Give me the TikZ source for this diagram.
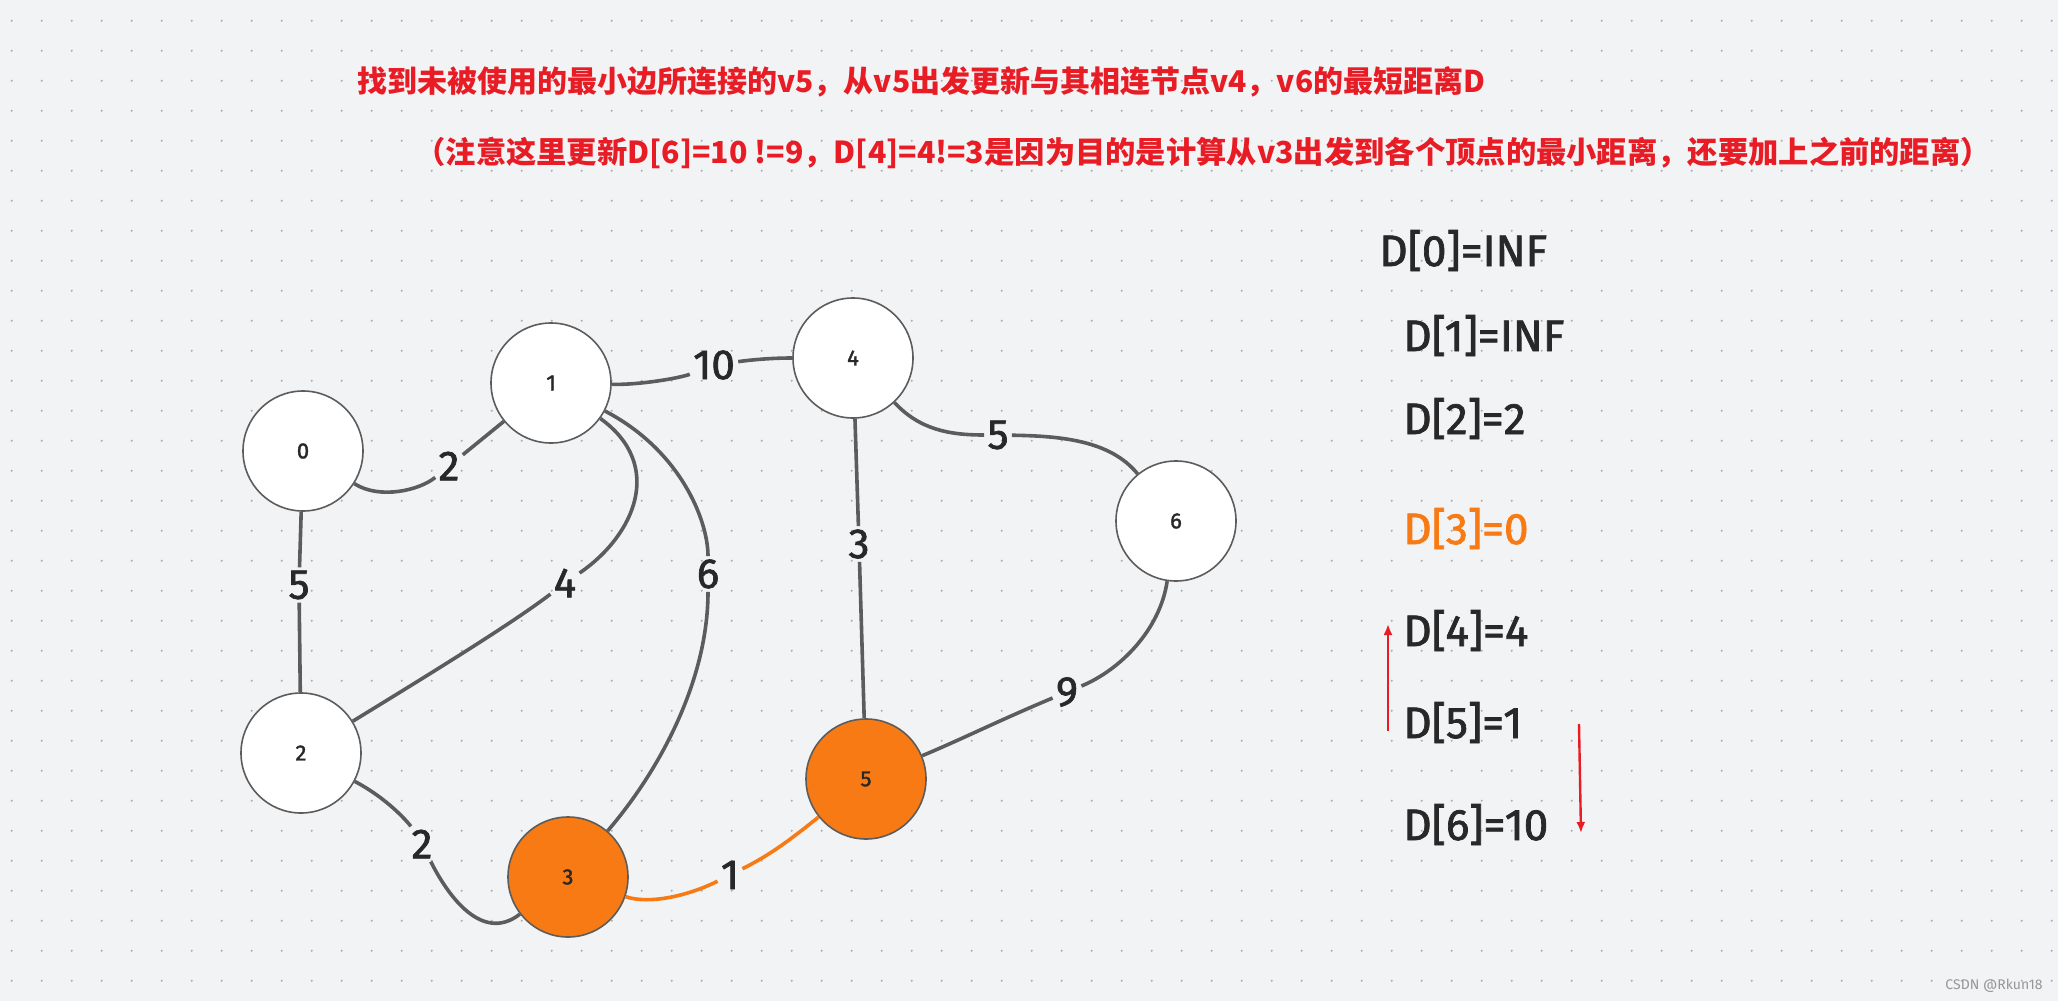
\documentclass[tikz,border=0pt]{standalone}
\usepackage{fontspec}
\setmainfont{Fira Sans}
\newfontfamily\hand{Fira Sans}[FakeBold=1.6]
\newfontfamily\cjk{Noto Sans CJK SC}
\usetikzlibrary{arrows.meta}
\definecolor{bg}{RGB}{242,243,245}
\definecolor{dotc}{RGB}{170,174,180}
\definecolor{edgec}{RGB}{92,92,92}
\definecolor{ink}{RGB}{40,40,40}
\definecolor{orng}{RGB}{248,122,20}
\definecolor{redt}{RGB}{232,28,36}
\definecolor{wmk}{RGB}{150,150,150}
\begin{document}
\begin{tikzpicture}[x=0.5pt,y=-0.5pt,
 vert/.style={circle,draw=edgec,line width=0.8pt,fill=white,minimum size=60pt,inner sep=0pt,font=\hand\fontsize{11}{11}\selectfont,text=ink},
 hot/.style={vert,fill=orng},
 elab/.style={inner sep=1.5pt,font=\hand\fontsize{21}{21}\selectfont,text=ink},
 edge/.style={draw=edgec,line width=1.8pt},
 hedge/.style={draw=orng,line width=1.8pt},
 dlab/.style={anchor=base west,inner sep=0pt,font=\hand\fontsize{22}{22}\selectfont,text=ink},
 note/.style={anchor=west,inner sep=0pt,font=\cjk\bfseries\fontsize{15}{15}\selectfont,text=redt},
 redarrow/.style={draw=redt,line width=1.2pt,-{Latex[length=5.5pt,width=4.5pt]}}
]
\fill[bg] (0,0) rectangle (2058,1001);
\useasboundingbox (0,0) rectangle (2058,1001);
\foreach \i in {0,...,68}{\foreach \j in {0,...,33}{\fill[dotc] (11.7+30*\i,20.7+30*\j) circle (0.55pt);}}

% notes
\node[note] (t1) at (357,82) {找到未被使用的最小边所连接的v5，从v5出发更新与其相连节点v4，v6的最短距离D};
\node[note,font=\cjk\bfseries\fontsize{15.15}{15.15}\selectfont] (t2) at (415,153) {（注意这里更新D[6]=10 !=9，D[4]=4!=3是因为目的是计算从v3出发到各个顶点的最小距离，还要加上之前的距离）};

% vertices
\node[vert] (n0) at (303,451) {0};
\node[vert] (n1) at (551,383) {1};
\node[vert] (n4) at (853,358) {4};
\node[vert] (n6) at (1176,521) {6};
\node[vert] (n2) at (301,753) {2};
\node[hot]  (n3) at (568,877) {3};
\node[hot]  (n5) at (866,779) {5};

% edge labels
\node[elab] (l01) at (449,466) {2};
\node[elab] (l02) at (299,585) {5};
\node[elab] (l12) at (565,583) {4};
\node[elab] (l13) at (708,574) {6};
\node[elab] (l23) at (422,844) {2};
\node[elab] (l35) at (730,875) {1};
\node[elab] (l14) at (714,365) {10};
\node[elab] (l45) at (859,544) {3};
\node[elab] (l46) at (998,435) {5};
\node[elab] (l65) at (1067,692) {9};

% edges
\draw[edge] (n0) .. controls (380,500) and (420,490) .. (l01);
\draw[edge] (l01) -- (n1);
\draw[edge] (n0) -- (l02);
\draw[edge] (l02) -- (n2);
\draw[edge] (n1) .. controls (665,465) and (635,535) .. (l12);
\draw[edge] (l12) .. controls (510,625) and (420,680) .. (n2);
\draw[edge] (n1) .. controls (680,450) and (708,520) .. (l13);
\draw[edge] (l13) .. controls (708,680) and (660,770) .. (n3);
\draw[edge] (n2) .. controls (390,800) and (410,825) .. (l23);
\draw[edge] (l23) .. controls (445,890) and (480,945) .. (n3);
\draw[hedge] (n3) .. controls (650,905) and (690,895) .. (l35);
\draw[hedge] (l35) .. controls (770,855) and (790,840) .. (n5);
\draw[edge] (n1) .. controls (640,385) and (680,378) .. (l14);
\draw[edge] (l14) .. controls (750,360) and (770,358) .. (n4);
\draw[edge] (n4) -- (l45);
\draw[edge] (l45) -- (n5);
\draw[edge] (n4) .. controls (920,430) and (950,435) .. (l46);
\draw[edge] (l46) .. controls (1060,436) and (1110,440) .. (n6);
\draw[edge] (n6) .. controls (1160,630) and (1120,670) .. (l65);
\draw[edge] (l65) .. controls (1000,720) and (960,740) .. (n5);

% distance list
\node[dlab] (d0) at (1379,266) {D[0]=INF};
\node[dlab] (d1) at (1403,351) {D[1]=INF};
\node[dlab] (d2) at (1403,434) {D[2]=2};
\node[dlab,text=orng] (d3) at (1403,544) {D[3]=0};
\node[dlab] (d4) at (1403,646) {D[4]=4};
\node[dlab] (d5) at (1403,738) {D[5]=1};
\node[dlab] (d6) at (1403,840) {D[6]=10};

% red arrows
\coordinate (ua) at (1388,731);
\coordinate (ub) at (1388,624);
\coordinate (da) at (1579,724);
\coordinate (db) at (1581,833);
\draw[redarrow] (ua) -- (ub);
\draw[redarrow] (da) -- (db);

% watermark
\node[anchor=east,inner sep=0pt,font=\fontsize{7}{7}\selectfont,text=wmk] (wm) at (2043,986) {CSDN @Rkun18};
\end{tikzpicture}
\end{document}
